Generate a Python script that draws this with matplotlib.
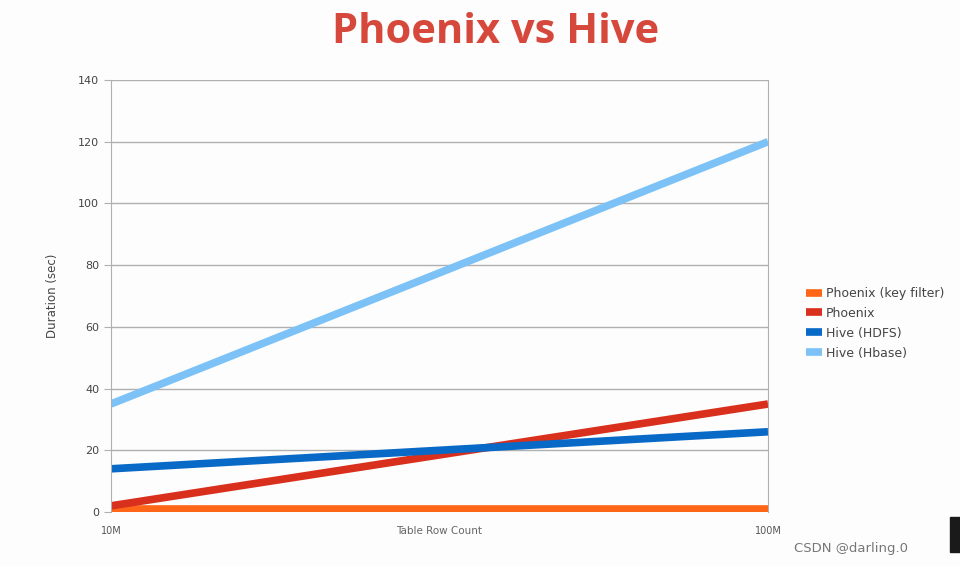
import matplotlib
matplotlib.use('Agg')
from matplotlib import pyplot as plt
from matplotlib.patches import Rectangle

# data
row_counts = ['10M', '100M']
key_filter = [1, 1]
phoenix = [2, 35]
hive_hdfs = [14, 26]
hive_hbase = [35, 120]

series = [
    ('Phoenix (key filter)', key_filter, '#ff6618'),
    ('Phoenix', phoenix, '#d8301c'),
    ('Hive (HDFS)', hive_hdfs, '#0869c7'),
    ('Hive (Hbase)', hive_hbase, '#7cc2f7'),
]

fig = plt.figure(figsize=(9.6, 5.66), dpi=100)
fig.patch.set_facecolor('#fdfdfd')
ax = fig.add_axes([0.1156, 0.0954, 0.6844, 0.7633])
ax.set_facecolor('#fdfdfd')

xs = list(range(len(row_counts)))
for name, vals, col in series:
    ax.plot(xs, vals, color=col, lw=5.5, solid_capstyle='butt', label=name)

ax.set_xlim(0, 1)
ax.set_ylim(0, 140)
ax.set_yticks(range(0, 141, 20))
ax.set_xticks(xs)
ax.set_xticklabels(row_counts)
ax.yaxis.grid(True, color='#b0b0b0', lw=1)
ax.set_axisbelow(True)
ax.spines['top'].set_visible(False)
ax.spines['bottom'].set_visible(False)
for s in ['left', 'right']:
    ax.spines[s].set_color('#b0b0b0')
ax.tick_params(axis='y', colors='#b0b0b0', labelcolor='#444444', labelsize=8, length=5)
ax.tick_params(axis='x', length=0, labelcolor='#555555', labelsize=7, pad=10)
ax.set_ylabel('Duration (sec)', fontsize=8.5, color='#444444', labelpad=14)
ax.set_xlabel('Table Row Count', fontsize=7.5, color='#666666', labelpad=-7)

fig.text(0.516, 0.943, 'Phoenix vs Hive', ha='center', va='center',
         fontsize=30, fontweight='bold', family='Open Sans', color='#d6483b')

leg = ax.legend(loc='center left', bbox_to_anchor=(1.04, 0.437), frameon=False,
                fontsize=9, handlelength=1.3, handletextpad=0.3, labelspacing=0.55)
for t in leg.get_texts():
    t.set_color('#444444')

fig.text(0.946, 0.031, 'CSDN @darling.0', ha='right', va='center',
         fontsize=9.5, color='#777777')
fig.patches.append(Rectangle((0.99, 0.025), 0.01, 0.062, transform=fig.transFigure,
                             color='#1a1a1a'))

fig.savefig('out.png', dpi=100, facecolor=fig.get_facecolor())
